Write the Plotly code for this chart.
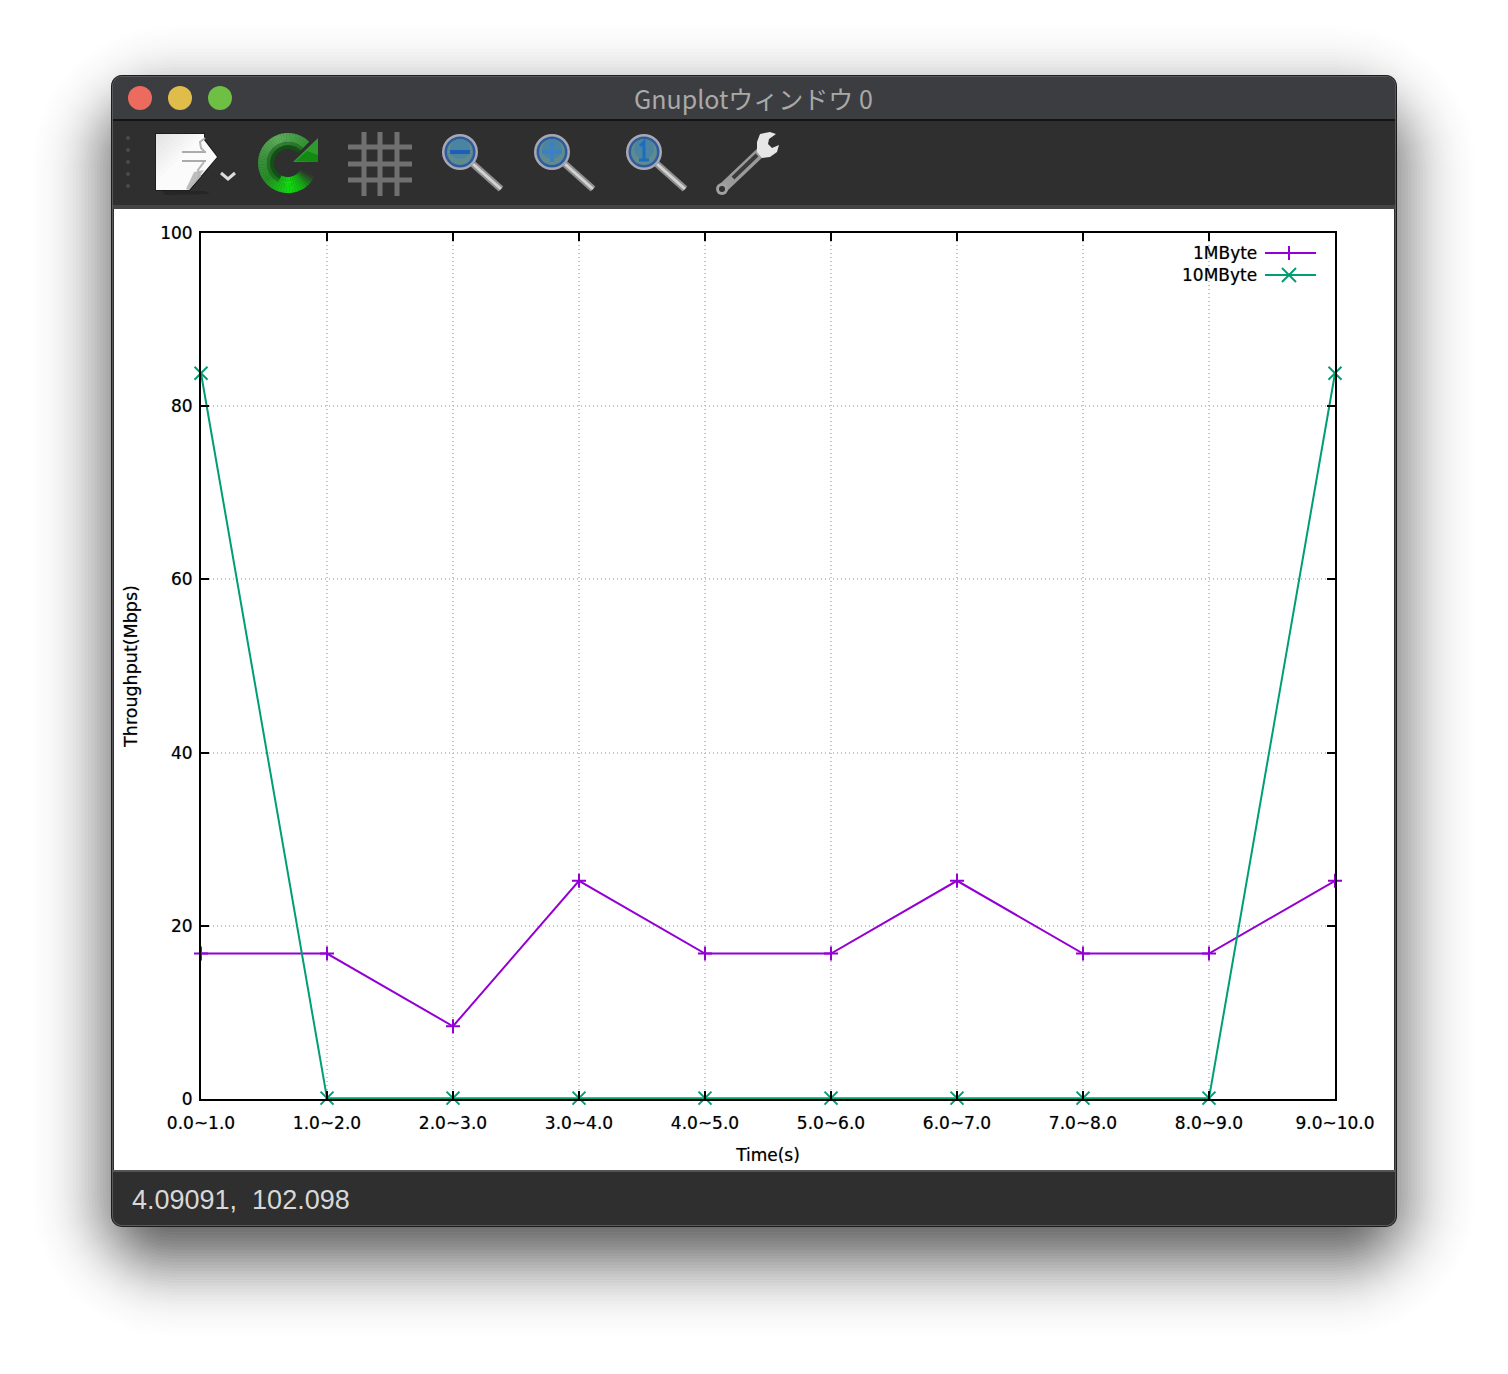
import math
import plotly.graph_objects as go

# valores
categories = ['0.0~1.0', '1.0~2.0', '2.0~3.0', '3.0~4.0', '4.0~5.0',
              '5.0~6.0', '6.0~7.0', '7.0~8.0', '8.0~9.0', '9.0~10.0']
mbyte_1 = [16.8, 16.8, 8.4, 25.2, 16.8, 16.8, 25.2, 16.8, 16.8, 25.2]
mbyte_10 = [83.8, 0.1, 0.1, 0.1, 0.1, 0.1, 0.1, 0.1, 0.1, 83.8]
y_ticks = [0, 20, 40, 60, 80, 100]
legend_names = ['1MByte', '10MByte']

PURPLE = '#9400d3'
GREEN = '#009e73'
TICK_FONT = 'DejaVu Sans'
TEXT_SHADOW = '0 0 1px rgba(0,0,0,0.45)'

W, H = 1508, 1374
LEFT, RIGHT, TOP, BOTTOM = 201, 1335, 233, 1099


def px(x):
    return (x - LEFT) / (RIGHT - LEFT)


def py(y):
    return (BOTTOM - y) / (BOTTOM - TOP)


shapes = []


def polygon(points, fill, layer='below', line=None, width=0, close=True):
    d = 'M ' + ' L '.join(f'{px(x):.5f},{py(y):.5f}' for x, y in points)
    if close:
        d += ' Z'
    shapes.append(dict(type='path', xref='paper', yref='paper', path=d, layer=layer,
                       fillcolor=fill, line=dict(color=line or 'rgba(0,0,0,0)', width=width)))


def stroke(points, color, width, layer='below'):
    polygon(points, 'rgba(0,0,0,0)', layer, color, width, close=False)


def circle(cx, cy, r, fill):
    shapes.append(dict(type='circle', xref='paper', yref='paper', layer='below',
                       x0=px(cx - r), x1=px(cx + r), y0=py(cy + r), y1=py(cy - r),
                       fillcolor=fill, line=dict(width=0)))


def corner_points(cx, cy, r, start):
    return [(cx + r * math.cos(math.radians(start + i * 15)),
             cy + r * math.sin(math.radians(start + i * 15))) for i in range(7)]


def rounded(x0, y0, x1, y1, r, fill, top=True, bottom=True):
    pts = []
    pts += corner_points(x0 + r, y0 + r, r, 180) if top else [(x0, y0)]
    pts += corner_points(x1 - r, y0 + r, r, 270) if top else [(x1, y0)]
    pts += corner_points(x1 - r, y1 - r, r, 0) if bottom else [(x1, y1)]
    pts += corner_points(x0 + r, y1 - r, r, 90) if bottom else [(x0, y1)]
    polygon(pts, fill)


def ring_segment(cx, cy, r_in, r_out, a0, a1, fill):
    steps = [a0 + (a1 - a0) * k / 3 for k in range(4)]
    seg = [(cx + r_out * math.cos(math.radians(a)), cy - r_out * math.sin(math.radians(a))) for a in steps]
    seg += [(cx + r_in * math.cos(math.radians(a)), cy - r_in * math.sin(math.radians(a))) for a in reversed(steps)]
    polygon(seg, fill)


def mix(c0, c1, t):
    return 'rgb(' + ','.join(str(round(a + (b - a) * t)) for a, b in zip(c0, c1)) + ')'


# sombra de la ventana
sigma, strength, offset = 38, 0.7, 30


def shadow_profile(d):
    return strength * 0.5 * (1 - math.erf(d / (sigma * math.sqrt(2))))


for d in range(114, -48, -3):
    a = 1 - (1 - shadow_profile(d)) / (1 - shadow_profile(d + 3))
    rounded(112 - d, 76 + offset - d, 1396 + d, 1226 + offset + d,
            max(12, 60 + d), f'rgba(0,0,0,{a:.4f})')

# ventana
rounded(111, 75, 1397, 1227, 11, '#1c1c1c')
rounded(112, 76, 1396, 1226, 10, '#5a5a5c')
rounded(113, 77, 1395, 1225, 9, '#2f2f2f')
rounded(113, 77, 1395, 120, 9, '#3c3d41', bottom=False)
polygon([(113, 119), (1395, 119), (1395, 121), (113, 121)], '#141414')
polygon([(113, 205), (1395, 205), (1395, 209), (113, 209)], '#454545')
polygon([(114, 209), (1394, 209), (1394, 1170), (114, 1170)], '#ffffff')
polygon([(113, 1170), (1395, 1170), (1395, 1172), (113, 1172)], '#555555')
for cx, col in [(140, '#ed6a5e'), (180, '#e0bd4a'), (220, '#6fbf45')]:
    circle(cx, 98, 12, col)
for cy in [138, 150, 162, 174, 186]:
    circle(128, cy, 2, '#4b4b4b')

# icono: documento
polygon([(162, 191), (205, 191), (210, 194), (165, 195)], '#262626')
polygon([(155, 133), (205, 133), (205, 139), (218, 157), (190, 191), (155, 191)], '#1e1e1e')
polygon([(156, 134), (204, 134), (204, 140), (217, 157), (189, 190), (156, 190)], '#fbfbfb')
for s in range(48, 0, -6):
    polygon([(156, 134), (156 + s, 134), (156, 134 + s)], 'rgba(0,0,0,0.012)')
polygon([(204, 170), (189, 190), (186, 189), (194, 172)], '#bdbdbd')
stroke([(182, 152), (206, 152)], '#ababab', 2)
stroke([(182, 161), (206, 161)], '#ababab', 2)
stroke([(205, 138), (200, 142), (201, 148), (205, 152)], '#b5b5b5', 2)
stroke([(204, 162), (198, 170), (200, 176), (190, 187)], '#b5b5b5', 2)
stroke([(221, 173), (228, 179), (235, 173)], '#dddddd', 3)

# icono: recargar, arco con degradado por tramos
ring_stops = [(45, (52, 148, 52)), (110, (92, 171, 92)), (170, (58, 143, 58)), (215, (36, 140, 36)),
              (270, (16, 220, 16)), (300, (20, 170, 20)), (330, (47, 47, 47))]
for a0 in range(45, 330, 6):
    k = next(i for i in range(len(ring_stops) - 1) if a0 < ring_stops[i + 1][0])
    (s0, c0), (s1, c1) = ring_stops[k], ring_stops[k + 1]
    base = [c0[j] + (c1[j] - c0[j]) * (a0 - s0) / (s1 - s0) for j in range(3)]
    dark = (16, 84, 20) if a0 < 240 else base
    ring_segment(288, 163, 21, 30, a0, a0 + 6.5, mix(base, base, 0))
    ring_segment(288, 163, 17.5, 21.3, a0, a0 + 6.5, mix(base, dark, 0.5))
    ring_segment(288, 163, 14, 17.8, a0, a0 + 6.5, mix(base, dark, 1))
polygon([(318, 138), (293, 162), (318, 162)], '#2f9a2f')
polygon([(307, 151), (296, 161), (318, 162), (318, 155)], '#128a12')

# icono: rejilla
for x in [364, 380, 397]:
    stroke([(x, 132), (x, 196)], '#707070', 5)
for y in [147, 164, 180]:
    stroke([(348, y), (412, y)], '#707070', 5)

# iconos: lupas
for cx, sym in [(460, 'minus'), (552, 'plus'), (644, 'one')]:
    stroke([(cx + 13, 164), (cx + 41, 189)], '#8f8f8f', 7)
    stroke([(cx + 13, 164), (cx + 41, 189)], '#d2d2d2', 3)
    circle(cx, 152, 18, '#a8a8b4')
    circle(cx, 152, 15.5, '#2d5c9e')
    circle(cx, 152, 13, '#5f8a8e')
    circle(cx, 149, 10, '#4b84a0')
    if sym == 'minus':
        stroke([(cx - 10, 152), (cx + 10, 152)], '#1d5fb8', 4)
    elif sym == 'plus':
        stroke([(cx - 10, 152), (cx + 10, 152)], '#3b80c4', 4)
        stroke([(cx, 142), (cx, 162)], '#3b80c4', 4)
    else:
        stroke([(cx - 4, 146), (cx, 142), (cx, 160)], '#1d6cc0', 3)
        stroke([(cx - 5, 160), (cx + 5, 160)], '#1d6cc0', 3)

# icono: llave
stroke([(722, 189), (762, 151)], '#9a9a9a', 10)
stroke([(733, 178), (757, 155)], '#3a3a3a', 4)
circle(722, 189, 6, '#a0a0a0')
circle(722, 189, 3, '#2f2f2f')
polygon([(757, 142), (760, 134), (770, 132), (776, 134), (769, 139), (768, 144), (772, 148),
         (779, 145), (777, 152), (770, 157), (762, 158), (757, 152)], '#e6e6e6')

# fondo blanco de la leyenda, tapa la rejilla
polygon([(1180, 243), (1322, 243), (1322, 286), (1180, 286)], '#ffffff', layer='between')

# muestras de la leyenda
stroke([(1265, 253), (1316, 253)], PURPLE, 2, 'above')
stroke([(1289, 246), (1289, 260)], PURPLE, 2, 'above')
stroke([(1265, 275), (1316, 275)], GREEN, 2, 'above')
stroke([(1282, 268), (1296, 282)], GREEN, 2, 'above')
stroke([(1282, 282), (1296, 268)], GREEN, 2, 'above')


def label(x, y, text, size, color, font, xanchor='left', shadow='none'):
    return dict(xref='paper', yref='paper', x=px(x), y=py(y), text=text, showarrow=False,
                xanchor=xanchor, yanchor='middle',
                font=dict(family=font, size=size, color=color, shadow=shadow))


annotations = [
    label(753, 98, 'Gnuplotウィンドウ 0', 25, '#a9a9a9', 'Noto Sans CJK JP', 'center'),
    label(130, 1200, '4.09091,\u00a0\u00a0102.098', 27, '#d8d8d8', 'Liberation Sans'),
    label(1259, 253, legend_names[0], 17, 'black', TICK_FONT, 'right', TEXT_SHADOW),
    label(1259, 275, legend_names[1], 17, 'black', TICK_FONT, 'right', TEXT_SHADOW),
]

fig = go.Figure()
fig.add_trace(go.Scatter(x=categories, y=mbyte_1, mode='lines+markers', name=legend_names[0],
                         line=dict(color=PURPLE, width=2), cliponaxis=False,
                         marker=dict(symbol='cross-thin', size=10, line=dict(color=PURPLE, width=2))))
fig.add_trace(go.Scatter(x=categories, y=mbyte_10, mode='lines+markers', name=legend_names[1],
                         line=dict(color=GREEN, width=2), cliponaxis=False,
                         marker=dict(symbol='x-thin', size=13, line=dict(color=GREEN, width=2))))

axis_font = dict(family=TICK_FONT, size=17, color='black', shadow=TEXT_SHADOW)
axis = dict(showline=True, linecolor='black', linewidth=2, mirror='ticks', ticks='inside',
            ticklen=8, tickwidth=2, tickcolor='black', showgrid=True, gridcolor='#c4c4c4',
            griddash='1px,3px', gridwidth=1.5, zeroline=False, tickfont=axis_font)

fig.update_layout(
    width=W, height=H, showlegend=False, paper_bgcolor='white', plot_bgcolor='rgba(0,0,0,0)',
    margin=dict(l=LEFT, r=W - RIGHT, t=TOP, b=H - BOTTOM, autoexpand=False),
    shapes=shapes, annotations=annotations,
    xaxis=dict(axis, type='category', range=[0, 9], ticklabelstandoff=8,
               title=dict(text='Time(s)', standoff=17, font=axis_font)),
    yaxis=dict(axis, range=[0, 100], tickvals=y_ticks, ticklabelstandoff=3,
               title=dict(text='Throughput(Mbps)', standoff=18, font=dict(axis_font, size=17.5))),
)

fig.write_html("out.html", config={'displayModeBar': False},
               post_script="document.body.style.margin='0';")
